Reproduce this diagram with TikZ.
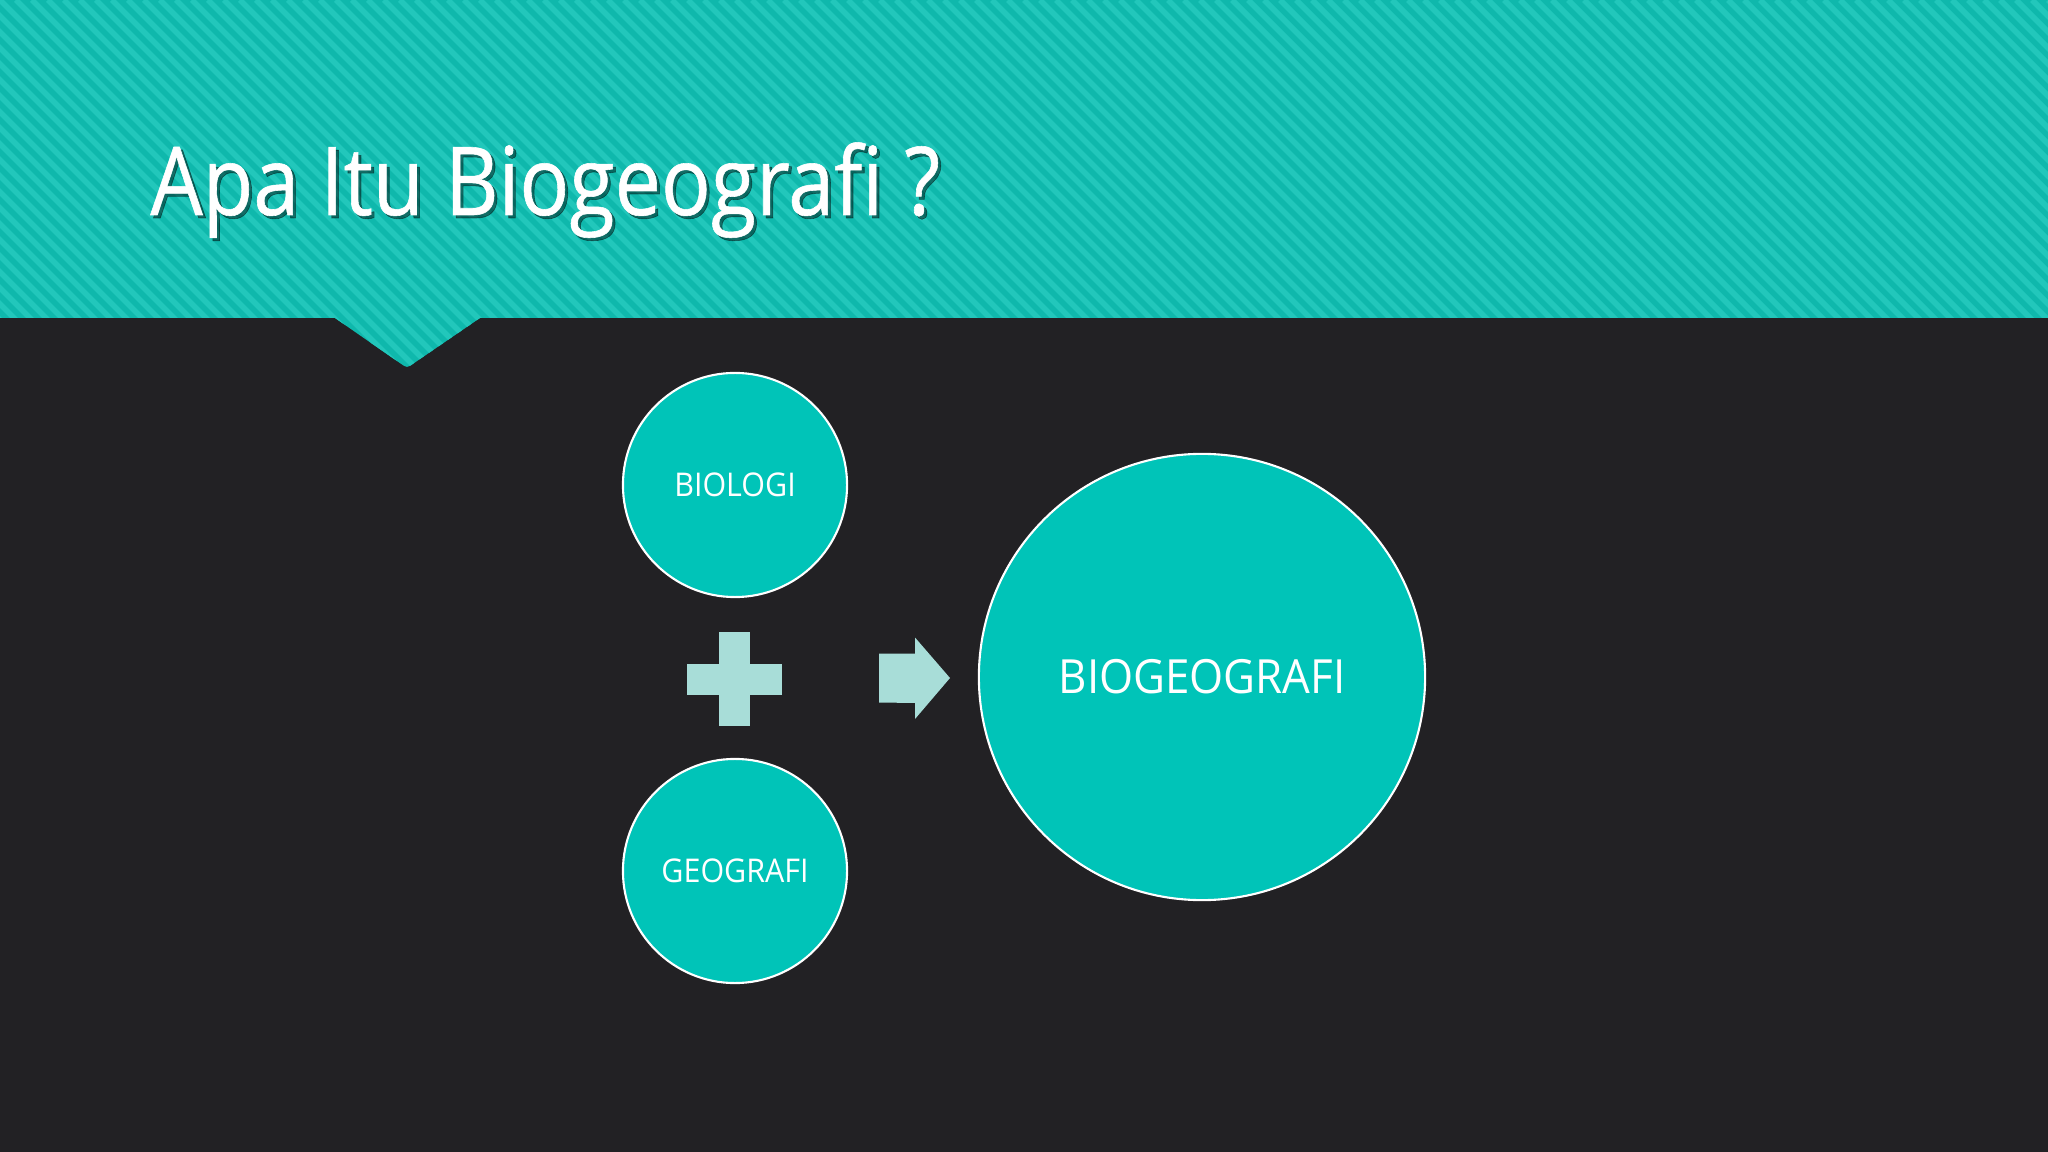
\documentclass[tikz,border=0pt]{standalone}
\usepackage{fontspec}
\setmainfont{Open Sans}
\newfontfamily\titlefont[FakeStretch=0.87, FakeBold=0.6]{Open Sans}
\newfontfamily\bubblefont[FakeStretch=0.93]{Open Sans}
\usetikzlibrary{calc}
\definecolor{slidebg}{HTML}{222124}
\definecolor{bannerteal}{HTML}{0FB8AC}
\definecolor{stripeteal}{HTML}{22C7BB}
\definecolor{bubbleteal}{HTML}{00C4B8}
\definecolor{signteal}{HTML}{A8DDD8}

\tikzset{
  bubble/.style={circle, draw=white, line width=0.6pt, fill=bubbleteal,
    inner sep=0pt, text=white},
  sign/.style={fill=signteal, draw=none},
}

\begin{document}
\begin{tikzpicture}[x=0.01cm, y=-0.01cm]

% background
\fill[slidebg] (0,0) rectangle (2048,1152);
\useasboundingbox (0,0) rectangle (2048,1152);

% banner with notch
\begin{scope}
\path[clip] (0,0) -- (2048,0) -- (2048,318) -- (480,318) -- (413.6,363.4)
  .. controls (407,368) .. (400.4,363.4) -- (335,318) -- (0,318) -- cycle;
\fill[bannerteal] (0,0) rectangle (2048,380);
\foreach \x in {-400,-384,...,2048}
  \draw[stripeteal, line width=1.6pt] (\x,0) -- ++(390,390);
\end{scope}

% title
\node[anchor=base west, text=black, opacity=0.45, font=\titlefont\fontsize{27}{30}\selectfont]
  (titleshadow) at (141,218) {Apa Itu Biogeografi ?};
\node[anchor=base west, text=white, font=\titlefont\fontsize{27}{30}\selectfont]
  (title) at (138,215) {Apa Itu Biogeografi ?};

% circles
\node[bubble, minimum size=2.24cm, font=\bubblefont\fontsize{9.3}{11}\selectfont]
  (biologi) at (735,485) {BIOLOGI};
\node[bubble, minimum size=2.24cm, font=\bubblefont\fontsize{9.3}{11}\selectfont]
  (geografi) at (735,871) {GEOGRAFI};
\node[bubble, minimum size=4.46cm, font=\bubblefont\fontsize{13.4}{16}\selectfont]
  (biogeografi) at (1202,677) {BIOGEOGRAFI};

% plus sign
\coordinate (plus) at (734.5,679);
\fill[sign] ($(plus)+(-15.5,-47)$) rectangle ($(plus)+(15.5,47)$);
\fill[sign] ($(plus)+(-47.5,-15.5)$) rectangle ($(plus)+(47.5,15.5)$);

% arrow
\coordinate (arrowtail) at (879,678);
\fill[sign] ($(arrowtail)+(0,-24.5)$) -- ++(36,0) -- ++(0,-16) -- (950,678)
  -- (915,719) -- ++(0,-16) -- ($(arrowtail)+(0,24.5)$) -- cycle;

\end{tikzpicture}
\end{document}
